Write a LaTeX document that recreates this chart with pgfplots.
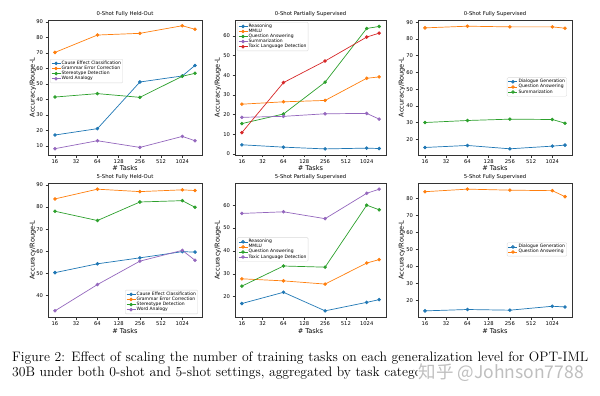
\documentclass[border=0pt]{standalone}
\usepackage{fontspec}
\usepackage{pgfplots}
\pgfplotsset{compat=1.18}
\newfontfamily\dejavu{DejaVu Sans}
\newfontfamily\cjk{Noto Sans CJK SC}
\definecolor{C0}{HTML}{1F77B4}
\definecolor{C1}{HTML}{FF7F0E}
\definecolor{C2}{HTML}{2CA02C}
\definecolor{C3}{HTML}{D62728}
\definecolor{C4}{HTML}{9467BD}
\pgfplotsset{
  every axis/.append style={
    scale only axis,
    xmin=12.73, xmax=1948,
    xtick={16,32,64,128,256,512,1024},
    xticklabels={16,32,64,128,256,512,1024},
    tick align=outside, tick pos=left,
    major tick length=2.5pt,
    ticklabel style={font=\dejavu\fontsize{5.2}{6}\selectfont},
    /pgf/number format/assume math mode=true,
    xticklabel style={yshift=1.3pt},
    yticklabel style={xshift=1pt},
    axis line style={line width=0.6pt, black!80},
    every tick/.style={black!80, line width=0.5pt},
    legend cell align=left,
    legend style={font=\dejavu\fontsize{4.5}{5}\selectfont, draw=black!15, fill=white, fill opacity=0.8, text opacity=1, rounded corners=1pt, inner sep=1pt, row sep=-1.2pt, nodes={inner sep=0.7pt}},
  },
  every axis plot/.append style={line width=0.7pt, mark=*, mark size=1.4pt},
  legend image code/.code={\draw[mark repeat=2,mark phase=2,#1] plot coordinates {(0pt,0pt) (4.5pt,0pt) (9pt,0pt)};},
}
\begin{document}
\begin{tikzpicture}
\path[use as bounding box] (0pt,0pt) rectangle (600pt,-396pt);
% ---------- Panel 1
\begin{axis}[xmode=log, log basis x=2, anchor=north west, at={(48pt,-20pt)}, width=154pt, height=135pt,
  ymin=4.2, ymax=91.3, ytick={10,20,30,40,50,60,70,80,90},
  legend style={at={(0.013,0.711)}, anchor=north west}]
\addplot[C0] coordinates {(16,17.1) (64,21.2) (256,51.3) (1024,55.2) (1550,62.0)};
\addplot[C1] coordinates {(16,70.4) (64,81.6) (256,82.7) (1024,87.6) (1550,85.3)};
\addplot[C2] coordinates {(16,41.6) (64,43.8) (256,41.4) (1024,55.0) (1550,56.9)};
\addplot[C4] coordinates {(16,8.3) (64,13.4) (256,9.1) (1024,16.2) (1550,13.4)};
\legend{Cause Effect Classification, Grammar Error Correction, Stereotype Detection, Word Analogy}
\end{axis}
% ---------- Panel 2
\begin{axis}[xmode=log, log basis x=2, anchor=north west, at={(235pt,-20pt)}, width=151pt, height=135pt,
  ymin=-0.6, ymax=68.2, ytick={0,10,20,30,40,50,60},
  legend style={at={(0.013,0.985)}, anchor=north west}]
\addplot[C0] coordinates {(16,4.6) (64,3.4) (256,2.5) (1024,2.9) (1550,2.7)};
\addplot[C1] coordinates {(16,25.3) (64,26.5) (256,27.2) (1024,38.5) (1550,39.2)};
\addplot[C2] coordinates {(16,15.4) (64,20.3) (256,36.5) (1024,63.9) (1550,64.9)};
\addplot[C4] coordinates {(16,18.6) (64,19.1) (256,20.4) (1024,20.6) (1550,17.7)};
\addplot[C3] coordinates {(16,10.8) (64,36.3) (256,47.3) (1024,59.5) (1550,61.5)};
\legend{Reasoning, MMLU, Question Answering, Summarization, Toxic Language Detection}
\end{axis}
% ---------- Panel 3
\begin{axis}[xmode=log, log basis x=2, anchor=north west, at={(418pt,-20pt)}, width=154pt, height=135pt,
  ymin=10.7, ymax=91.3, ytick={20,30,40,50,60,70,80,90},
  legend style={at={(0.967,0.504)}, anchor=east}]
\addplot[C0] coordinates {(16,15.2) (64,16.4) (256,14.4) (1024,16.0) (1550,16.6)};
\addplot[C1] coordinates {(16,86.6) (64,87.6) (256,87.2) (1024,87.2) (1550,86.4)};
\addplot[C2] coordinates {(16,30.1) (64,31.3) (256,32.1) (1024,31.9) (1550,29.7)};
\legend{Dialogue Generation, Question Answering, Summarization}
\end{axis}
% ---------- Panel 4
\begin{axis}[xmode=log, log basis x=2, anchor=north west, at={(48pt,-183pt)}, width=154pt, height=134pt,
  ymin=30.2, ymax=90.9, ytick={40,50,60,70,80,90},
  legend style={at={(0.974,0.022)}, anchor=south east}]
\addplot[C0] coordinates {(16,50.3) (64,54.3) (256,57.0) (1024,59.8) (1550,59.6)};
\addplot[C1] coordinates {(16,83.7) (64,88.1) (256,87.0) (1024,87.8) (1550,87.5)};
\addplot[C2] coordinates {(16,78.1) (64,73.9) (256,82.3) (1024,82.9) (1550,79.9)};
\addplot[C4] coordinates {(16,33.0) (64,44.9) (256,55.5) (1024,60.4) (1550,55.9)};
\legend{Cause Effect Classification, Grammar Error Correction, Stereotype Detection, Word Analogy}
\end{axis}
% ---------- Panel 5
\begin{axis}[xmode=log, log basis x=2, anchor=north west, at={(235pt,-183pt)}, width=151pt, height=134pt,
  ymin=11.1, ymax=69.7, ytick={20,30,40,50,60},
  legend style={at={(0.013,0.504)}, anchor=west}]
\addplot[C0] coordinates {(16,17.0) (64,21.9) (256,13.8) (1024,17.5) (1550,18.7)};
\addplot[C1] coordinates {(16,27.8) (64,26.9) (256,25.5) (1024,34.7) (1550,36.2)};
\addplot[C2] coordinates {(16,24.6) (64,33.4) (256,32.9) (1024,60.0) (1550,58.0)};
\addplot[C4] coordinates {(16,56.4) (64,57.1) (256,54.1) (1024,65.2) (1550,67.0)};
\legend{Reasoning, MMLU, Question Answering, Toxic Language Detection}
\end{axis}
% ---------- Panel 6
\begin{axis}[xmode=log, log basis x=2, anchor=north west, at={(418pt,-183pt)}, width=154pt, height=134pt,
  ymin=10.4, ymax=89.0, ytick={20,30,40,50,60,70,80},
  legend style={at={(0.967,0.504)}, anchor=east}]
\addplot[C0] coordinates {(16,14.0) (64,14.8) (256,14.4) (1024,16.7) (1550,16.3)};
\addplot[C1] coordinates {(16,83.9) (64,85.4) (256,84.8) (1024,84.5) (1550,81.0)};
\legend{Dialogue Generation, Question Answering}
\end{axis}
% ---------- titles and labels
\begin{scope}[every node/.style={inner sep=0pt}]
\foreach \cx/\t in {125/0-Shot Fully Held-Out, 310.5/0-Shot Partially Supervised, 495/0-Shot Fully Supervised}
  \node[font=\dejavu\fontsize{5.3}{6}\selectfont] at (\cx pt,-14pt) {\t};
\foreach \cx/\t in {125/5-Shot Fully Held-Out, 310.5/5-Shot Partially Supervised, 495/5-Shot Fully Supervised}
  \node[font=\dejavu\fontsize{5.3}{6}\selectfont] at (\cx pt,-177.5pt) {\t};
\foreach \cx in {125,310.5,495} {
  \node[font=\dejavu\fontsize{6.6}{8}\selectfont] at (\cx pt,-168.5pt) {\# Tasks};
  \node[font=\dejavu\fontsize{6.6}{8}\selectfont] at (\cx pt,-331pt) {\# Tasks};
}
\foreach \lx in {33,218,402} {
  \node[font=\dejavu\fontsize{6.6}{8}\selectfont, rotate=90] at (\lx pt,-87.5pt) {Accuracy/Rouge-L};
  \node[font=\dejavu\fontsize{6.6}{8}\selectfont, rotate=90] at (\lx pt,-250pt) {Accuracy/Rouge-L};
}
\end{scope}
% ---------- caption
\node[anchor=base west, inner sep=0pt, font=\fontsize{13.7}{15}\selectfont] at (12pt,-361pt)
  {\makebox[576pt][s]{Figure 2: Effect of scaling the number of training tasks on each generalization level for OPT-IML}};
\node[anchor=base west, inner sep=0pt, font=\fontsize{13.7}{15}\selectfont] at (12pt,-376.5pt)
  {30B under both 0-shot and 5-shot settings, aggregated by task category.};
\node[anchor=base west, inner sep=0.5pt, fill=white, text=black!25, font=\cjk\fontsize{17.5}{18}\selectfont] at (418pt,-378pt)
  {知乎 @Johnson7788};
\end{tikzpicture}
\end{document}
